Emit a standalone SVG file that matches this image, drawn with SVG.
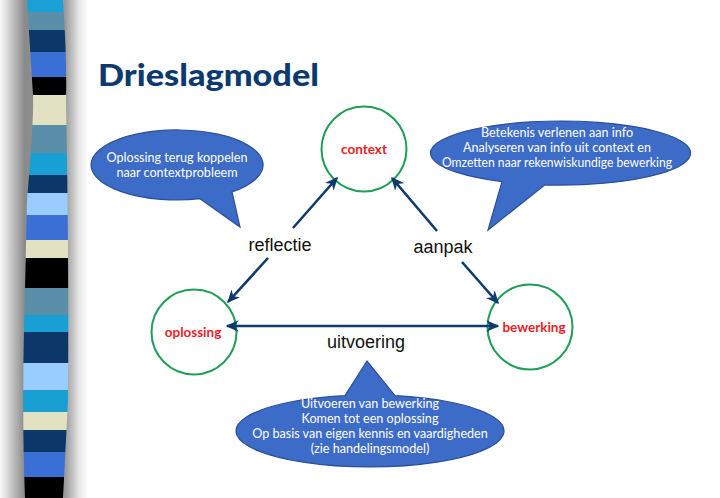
<svg xmlns="http://www.w3.org/2000/svg" width="720" height="498" viewBox="0 0 720 498">
<style>
.node circle{fill:#fff;stroke:#1f9e57;stroke-width:2}
.nl{font-family:Lato,"Open Sans",sans-serif;font-weight:bold;font-size:13.5px;fill:#ee1c25;text-anchor:middle}
.call path{fill:#3d6bc8;stroke:#2b4f98;stroke-width:1.2}
.ct{font-family:Lato,"Open Sans",sans-serif;font-size:12.6px;fill:#fff;text-anchor:middle}
.conn line{stroke:#0e3a6c;stroke-width:2.6}
.el{font-family:"Liberation Sans",Arial,sans-serif;font-size:18px;fill:#111;text-anchor:middle}
</style>
<defs>
<linearGradient id="sh" x1="0" x2="1" y1="0" y2="0">
<stop offset="0" stop-color="#fafafa"/>
<stop offset="0.28" stop-color="#8a8a8a"/>
<stop offset="0.74" stop-color="#9a9a9a"/>
<stop offset="0.9" stop-color="#e6e6e6"/>
<stop offset="1" stop-color="#fff"/>
</linearGradient>
<clipPath id="bar">
<path d="M27,0 L63,0 Q67,60 66,100 Q69,250 68,400 L63,498 L25,498 Q22,420 24,330 Q26,250 27,200 Q34,120 33,95 Z"/>
</clipPath>
<marker id="ah" viewBox="0 0 10 10" refX="9" refY="5" markerUnits="userSpaceOnUse" markerWidth="13" markerHeight="13" orient="auto-start-reverse">
<path d="M0,0.5 L10,5 L0,9.5 L3,5 Z" fill="#0e3a6c"/>
</marker>
</defs>
<rect width="720" height="498" fill="#fff"/>
<g id="stripe-bar">
<rect x="0" y="0" width="88" height="498" fill="url(#sh)"/>
<g clip-path="url(#bar)">
<rect x="0" y="0" width="90" height="12" fill="#1aa0d6"/>
<rect x="0" y="12" width="90" height="18" fill="#5a8fa8"/>
<rect x="0" y="30" width="90" height="22" fill="#0b3868"/>
<rect x="0" y="52" width="90" height="25" fill="#3a6fd6"/>
<rect x="0" y="77" width="90" height="18" fill="#000"/>
<rect x="0" y="95" width="90" height="30" fill="#e2e2c2"/>
<rect x="0" y="125" width="90" height="28" fill="#5b8ea8"/>
<rect x="0" y="153" width="90" height="22" fill="#189fd4"/>
<rect x="0" y="175" width="90" height="18" fill="#0b3868"/>
<rect x="0" y="193" width="90" height="22" fill="#99ccff"/>
<rect x="0" y="215" width="90" height="25" fill="#3a6fd6"/>
<rect x="0" y="240" width="90" height="18" fill="#e2e2c2"/>
<rect x="0" y="258" width="90" height="30" fill="#000"/>
<rect x="0" y="288" width="90" height="27" fill="#5b8ea8"/>
<rect x="0" y="315" width="90" height="17" fill="#189fd4"/>
<rect x="0" y="332" width="90" height="31" fill="#0b3868"/>
<rect x="0" y="363" width="90" height="27" fill="#99ccff"/>
<rect x="0" y="390" width="90" height="22" fill="#189fd4"/>
<rect x="0" y="412" width="90" height="18" fill="#e2e2c2"/>
<rect x="0" y="430" width="90" height="22" fill="#0b3868"/>
<rect x="0" y="452" width="90" height="25" fill="#3a6fd6"/>
<rect x="0" y="477" width="90" height="21" fill="#000"/>
</g>
</g>
<text x="98" y="86" font-family="Lato,'Open Sans',sans-serif" font-weight="900" font-size="31" fill="#0d3a6e" textLength="221" lengthAdjust="spacingAndGlyphs">Drieslagmodel</text>

<g id="callout-left" class="call">
<path d="M200,198.7 L240,227 L232,191.9 A86 35 0 1 0 200,198.7 Z"/>
<text class="ct" x="177" y="162">Oplossing terug koppelen</text>
<text class="ct" x="177" y="177">naar contextprobleem</text>
</g>
<g id="callout-right" class="call">
<path d="M502,181.6 L488,230 L545,184.8 A130 32 0 1 0 502,181.6 Z"/>
<text class="ct" x="557" y="137">Betekenis verlenen aan info</text>
<text class="ct" x="557" y="152">Analyseren van info uit context en</text>
<text class="ct" x="557" y="167" textLength="230" lengthAdjust="spacingAndGlyphs">Omzetten naar rekenwiskundige bewerking</text>
</g>
<g id="callout-bottom" class="call">
<path d="M395,395.6 L367,361 L345,395.6 A134 36 0 1 0 395,395.6 Z"/>
<text class="ct" x="370" y="408">Uitvoeren van bewerking</text>
<text class="ct" x="370" y="423">Komen tot een oplossing</text>
<text class="ct" x="370" y="438">Op basis van eigen kennis en vaardigheden</text>
<text class="ct" x="370" y="453">(zie handelingsmodel)</text>
</g>

<g id="node-context" class="node">
<circle cx="364" cy="149" r="42.5"/>
<text class="nl" x="364" y="154">context</text>
</g>
<g id="node-oplossing" class="node">
<circle cx="194" cy="332" r="42.5"/>
<text class="nl" x="193" y="337">oplossing</text>
</g>
<g id="node-bewerking" class="node">
<circle cx="530" cy="327" r="42.5"/>
<text class="nl" x="534" y="332">bewerking</text>
</g>

<g id="connectors" class="conn">
<line x1="293" y1="228" x2="337" y2="178" marker-end="url(#ah)"/>
<line x1="268" y1="258" x2="228" y2="302" marker-end="url(#ah)"/>
<line x1="437" y1="231" x2="392" y2="178" marker-end="url(#ah)"/>
<line x1="462" y1="262" x2="498" y2="303" marker-end="url(#ah)"/>
<line x1="227" y1="326" x2="498" y2="326" marker-start="url(#ah)" marker-end="url(#ah)"/>
<text class="el" x="280" y="251">reflectie</text>
<text class="el" x="443" y="253">aanpak</text>
<text class="el" x="366" y="348">uitvoering</text>
</g>
</svg>
